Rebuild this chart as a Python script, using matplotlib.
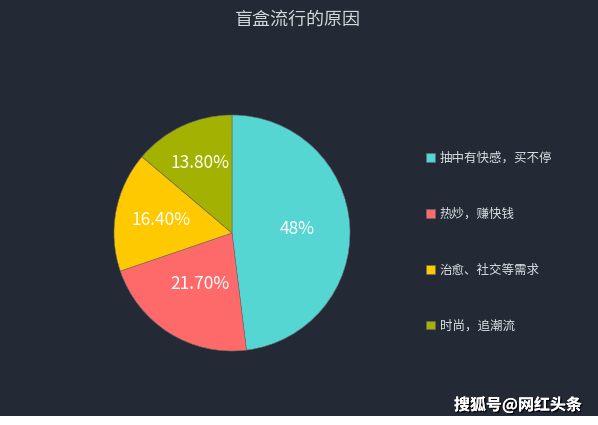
import matplotlib
matplotlib.use("Agg")
import matplotlib.pyplot as plt
import matplotlib.patheffects as pe
import numpy as np

plt.rcParams['font.family'] = ['Noto Sans CJK SC', 'DejaVu Sans']

# 数据
reasons = ['抽中有快感，买不停', '热炒，赚快钱', '治愈、社交等需求', '时尚，追潮流']
values = [48, 21.7, 16.4, 13.8]
pct_labels = ['48%', '21.70%', '16.40%', '13.80%']
colors = ['#55d6d3', '#fe6a6a', '#ffc900', '#a3b200']
label_r = [0.55, 0.51, 0.61, 0.65]

bg = '#232a35'

fig = plt.figure(figsize=(5.98, 4.25), dpi=100, facecolor='white')
# fondo oscuro (deja una franja blanca abajo)
fig.patches.append(plt.Rectangle((0, 9 / 425), 1, 1, transform=fig.transFigure,
                                 facecolor=bg, edgecolor='none', zorder=-5))

ax = fig.add_axes([114 / 598, 74 / 425, 236 / 598, 236 / 425])
ax.set_facecolor('none')
ax.set_zorder(2)
wedges, _ = ax.pie(values, colors=colors, startangle=90, counterclock=False,
                   wedgeprops=dict(edgecolor='#6a6a6a', linewidth=0.4))
ax.set_xlim(-1, 1)
ax.set_ylim(-1, 1)
ax.set_aspect('equal')

# etiquetas dentro de cada sector
for w, txt, r in zip(wedges, pct_labels, label_r):
    ang = np.deg2rad((w.theta1 + w.theta2) / 2)
    ax.text(r * np.cos(ang), r * np.sin(ang), txt, ha='center', va='center',
            color='white', fontsize=12.5)

fig.text(298 / 598, 1 - 20 / 425, '盲盒流行的原因', ha='center', va='center',
         color='#d3d7dc', fontsize=13)

fig.legend(wedges, reasons, loc='upper left',
           bbox_to_anchor=(426 / 598, 1 - 152 / 425), frameon=False,
           handlelength=0.7, handleheight=0.7, handletextpad=0.4,
           labelspacing=3.42, borderpad=0, borderaxespad=0,
           fontsize=9, labelcolor='#dde1e6')

fig.text(582 / 598, 1 - 405 / 425, '搜狐号@网红头条', ha='right', va='center',
         color='white', fontsize=11.5, fontweight='bold',
         path_effects=[pe.withSimplePatchShadow(offset=(1, -1), shadow_rgbFace='black', alpha=0.9),
                       pe.Normal()])

fig.savefig('out.png', dpi=100, facecolor=fig.get_facecolor())
